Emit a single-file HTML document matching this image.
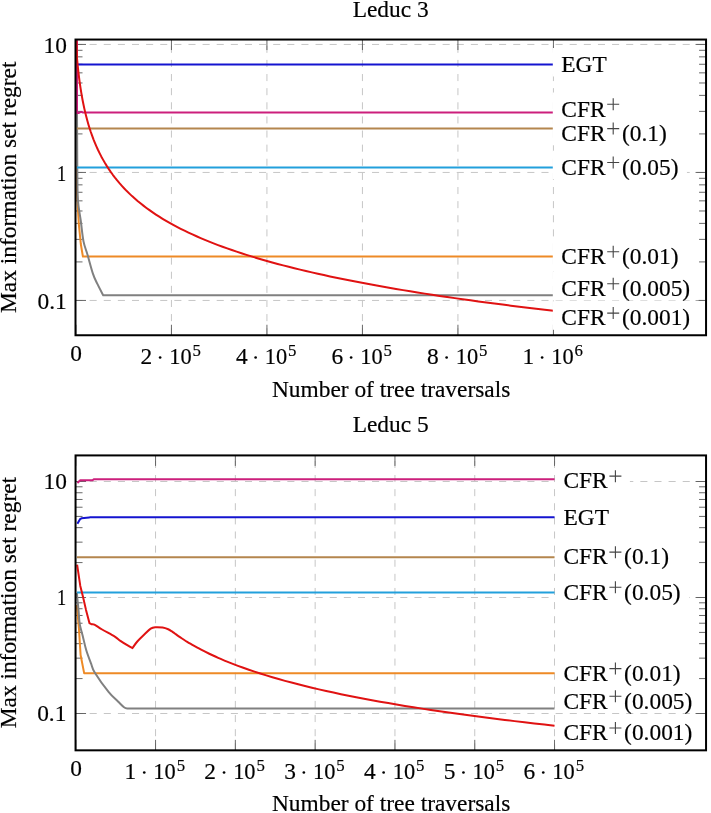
<!DOCTYPE html><html><head><meta charset="utf-8"><style>html,body{margin:0;padding:0;background:#fff;width:711px;height:813px;overflow:hidden}svg{display:block;will-change:transform}text{font-family:"Liberation Serif", serif;fill:#000;stroke:#000;stroke-width:0.18px}</style></head><body>
<svg width="711" height="813" viewBox="0 0 711 813">
<g stroke="#c6c6c6" stroke-width="1" stroke-dasharray="7.06 7.06"><line x1="171.43" y1="335.25" x2="171.43" y2="39.55"/><line x1="266.93" y1="335.25" x2="266.93" y2="39.55"/><line x1="362.43" y1="335.25" x2="362.43" y2="39.55"/><line x1="457.93" y1="335.25" x2="457.93" y2="39.55"/><line x1="553.43" y1="335.25" x2="553.43" y2="39.55"/><line x1="75.5" y1="44.45" x2="706.05" y2="44.45"/><line x1="75.5" y1="172.45" x2="706.05" y2="172.45"/><line x1="75.5" y1="300.45" x2="706.05" y2="300.45"/></g>
<path d="M75.93 335.25v-10.5M75.93 39.55v10.5M171.43 335.25v-10.5M171.43 39.55v10.5M266.93 335.25v-10.5M266.93 39.55v10.5M362.43 335.25v-10.5M362.43 39.55v10.5M457.93 335.25v-10.5M457.93 39.55v10.5M553.43 335.25v-10.5M553.43 39.55v10.5M75.5 44.45h10.5M706.05 44.45h-10.5M75.5 172.45h10.5M706.05 172.45h-10.5M75.5 300.45h10.5M706.05 300.45h-10.5M75.5 261.92h7M706.05 261.92h-7M75.5 239.38h7M706.05 239.38h-7M75.5 223.39h7M706.05 223.39h-7M75.5 210.98h7M706.05 210.98h-7M75.5 200.85h7M706.05 200.85h-7M75.5 192.28h7M706.05 192.28h-7M75.5 184.85h7M706.05 184.85h-7M75.5 178.31h7M706.05 178.31h-7M75.5 133.92h7M706.05 133.92h-7M75.5 111.38h7M706.05 111.38h-7M75.5 95.39h7M706.05 95.39h-7M75.5 82.98h7M706.05 82.98h-7M75.5 72.85h7M706.05 72.85h-7M75.5 64.28h7M706.05 64.28h-7M75.5 56.85h7M706.05 56.85h-7M75.5 50.31h7M706.05 50.31h-7" stroke="#585858" stroke-width="0.9" fill="none"/>
<path d="M76.8 166 L76.8 190 L78.8 223.8 L80.8 244 L82.9 256.47 L553.43 256.47" stroke="#ee8a26" stroke-width="2" fill="none" stroke-linejoin="round"/>
<path d="M77 40.5C77 52.42 76.95 90.42 77 112C77.05 133.58 77.15 155.33 77.3 170C77.45 184.67 77.32 191.5 77.9 200C78.48 208.5 79.87 214.1 80.8 221C81.73 227.9 82.37 235.73 83.5 241.4C84.63 247.07 86.02 249.58 87.6 255C89.18 260.42 91.42 269.17 93 273.9C94.58 278.63 95.4 279.84 97.1 283.4C98.8 286.96 102.18 293.27 103.2 295.25L553.43 295.25" stroke="#808080" stroke-width="2" fill="none" stroke-linejoin="round"/>
<path d="M76.8 167.4 L553.43 167.4" stroke="#22a0dc" stroke-width="2" fill="none" stroke-linejoin="round"/>
<path d="M76.8 128.55 L553.43 128.55" stroke="#b4864e" stroke-width="2" fill="none" stroke-linejoin="round"/>
<path d="M77 40.3 L77 112.9 L78.5 113 L81 111.9 L83 112.47 L553.43 112.47" stroke="#cc1f7c" stroke-width="2" fill="none" stroke-linejoin="round"/>
<path d="M77 64.5 L553.43 64.5" stroke="#1414d0" stroke-width="2" fill="none" stroke-linejoin="round"/>
<path d="M76.4 40.5 L77 58.18 L77.01 58.32 L77.06 58.83 L77.14 59.76 L77.27 61.11 L77.44 62.9 L77.65 65.09 L77.92 67.65 L78.23 70.54 L78.6 73.72 L79.01 77.15 L79.48 80.77 L80.01 84.55 L80.58 88.44 L81.22 92.42 L81.91 96.44 L82.66 100.5 L83.47 104.56 L84.34 108.6 L85.26 112.62 L86.25 116.61 L87.3 120.54 L88.41 124.42 L89.58 128.24 L90.81 132 L92.11 135.69 L93.47 139.32 L94.9 142.87 L96.39 146.36 L97.94 149.78 L99.57 153.13 L101.25 156.42 L103.01 159.63 L104.83 162.79 L106.72 165.87 L108.68 168.9 L110.7 171.87 L112.8 174.78 L114.96 177.63 L117.19 180.42 L119.49 183.16 L121.87 185.85 L124.31 188.49 L126.82 191.08 L129.41 193.62 L132.06 196.11 L134.79 198.56 L137.59 200.97 L140.46 203.33 L143.41 205.65 L146.43 207.93 L149.52 210.17 L152.68 212.38 L155.92 214.55 L159.24 216.68 L162.62 218.78 L166.09 220.85 L169.62 222.88 L173.24 224.88 L176.93 226.85 L180.69 228.8 L184.53 230.71 L188.45 232.59 L192.44 234.45 L196.51 236.28 L200.65 238.09 L204.88 239.87 L209.18 241.62 L213.56 243.35 L218.02 245.06 L222.55 246.74 L227.17 248.4 L231.86 250.05 L236.63 251.67 L241.48 253.26 L246.41 254.84 L251.42 256.4 L256.51 257.94 L261.68 259.46 L266.92 260.97 L272.25 262.45 L277.66 263.92 L283.15 265.37 L288.73 266.8 L294.38 268.22 L300.11 269.62 L305.93 271.01 L311.82 272.38 L317.8 273.74 L323.86 275.08 L330.01 276.41 L336.23 277.72 L342.54 279.02 L348.93 280.3 L355.41 281.57 L361.97 282.83 L368.61 284.08 L375.33 285.32 L382.14 286.54 L389.03 287.75 L396.01 288.95 L403.07 290.13 L410.21 291.31 L417.44 292.47 L424.76 293.63 L432.15 294.77 L439.64 295.9 L447.21 297.02 L454.86 298.13 L462.6 299.24 L470.43 300.33 L478.34 301.41 L486.34 302.48 L494.42 303.55 L502.59 304.6 L510.85 305.65 L519.19 306.68 L527.62 307.71 L536.14 308.73 L544.74 309.74 L553.43 310.74" stroke="#e01212" stroke-width="2" fill="none" stroke-linejoin="round"/>
<rect x="552.8" y="48" width="62.5" height="28.5" fill="#fff"/>
<rect x="552.8" y="92.5" width="74.9" height="28.5" fill="#fff"/>
<rect x="552.8" y="116.8" width="122.43" height="28.5" fill="#fff"/>
<rect x="552.8" y="150.7" width="134.13" height="28.5" fill="#fff"/>
<rect x="552.8" y="240" width="134.13" height="28.5" fill="#fff"/>
<rect x="552.8" y="271.9" width="145.83" height="28.5" fill="#fff"/>
<rect x="552.8" y="301.3" width="145.83" height="28.5" fill="#fff"/>
<rect x="75.5" y="39.55" width="630.55" height="295.7" fill="none" stroke="#000" stroke-width="2"/>
<text transform="translate(390.7 16.6) scale(1 1.03)" font-size="23.4" text-anchor="middle" >Leduc 3</text>
<text transform="translate(391.1 396.5) scale(1 1.03)" font-size="23.4" text-anchor="middle" >Number of tree traversals</text>
<text transform="translate(15.9 187.25) rotate(-90) scale(1 1.03)" font-size="23.4" text-anchor="middle">Max information set regret</text>
<text transform="translate(76.15 361) scale(1 1.03)" font-size="23.4" text-anchor="middle" >0</text>
<text transform="translate(140.43 363.8) scale(1 1.03)" font-size="23.4" text-anchor="start" >2</text><circle cx="160.13" cy="357.5" r="1.35" fill="#000"/><text transform="translate(169.23 363.8) scale(1 1.03)" font-size="23.4" text-anchor="start" textLength="22.4" lengthAdjust="spacingAndGlyphs">10</text><text transform="translate(192.53 355.8) scale(1 1.03)" font-size="16.8" text-anchor="start" >5</text>
<text transform="translate(235.93 363.8) scale(1 1.03)" font-size="23.4" text-anchor="start" >4</text><circle cx="255.63" cy="357.5" r="1.35" fill="#000"/><text transform="translate(264.73 363.8) scale(1 1.03)" font-size="23.4" text-anchor="start" textLength="22.4" lengthAdjust="spacingAndGlyphs">10</text><text transform="translate(288.03 355.8) scale(1 1.03)" font-size="16.8" text-anchor="start" >5</text>
<text transform="translate(331.43 363.8) scale(1 1.03)" font-size="23.4" text-anchor="start" >6</text><circle cx="351.13" cy="357.5" r="1.35" fill="#000"/><text transform="translate(360.23 363.8) scale(1 1.03)" font-size="23.4" text-anchor="start" textLength="22.4" lengthAdjust="spacingAndGlyphs">10</text><text transform="translate(383.53 355.8) scale(1 1.03)" font-size="16.8" text-anchor="start" >5</text>
<text transform="translate(426.93 363.8) scale(1 1.03)" font-size="23.4" text-anchor="start" >8</text><circle cx="446.63" cy="357.5" r="1.35" fill="#000"/><text transform="translate(455.73 363.8) scale(1 1.03)" font-size="23.4" text-anchor="start" textLength="22.4" lengthAdjust="spacingAndGlyphs">10</text><text transform="translate(479.03 355.8) scale(1 1.03)" font-size="16.8" text-anchor="start" >5</text>
<text transform="translate(522.43 363.8) scale(1 1.03)" font-size="23.4" text-anchor="start" >1</text><circle cx="542.13" cy="357.5" r="1.35" fill="#000"/><text transform="translate(551.23 363.8) scale(1 1.03)" font-size="23.4" text-anchor="start" textLength="22.4" lengthAdjust="spacingAndGlyphs">10</text><text transform="translate(574.53 355.8) scale(1 1.03)" font-size="16.8" text-anchor="start" >6</text>
<text transform="translate(66.2 180.9) scale(1 1.03)" font-size="23.4" text-anchor="end" textLength="9.2" lengthAdjust="spacingAndGlyphs">1</text>
<text transform="translate(66.9 52.8) scale(1 1.03)" font-size="23.4" text-anchor="end" >10</text>
<text transform="translate(66.7 308.8) scale(1 1.03)" font-size="23.4" text-anchor="end" >0.1</text>
<text transform="translate(561.3 72) scale(1 1.03)" font-size="23.4" text-anchor="start" >EGT</text>
<text transform="translate(561.3 116.5) scale(1 1.03)" font-size="23.4">CFR</text><path d="M607.2 104.3H619.2M613.2 98.3V110.3" stroke="#444" stroke-width="1.1"/>
<text transform="translate(561.3 140.8) scale(1 1.03)" font-size="23.4">CFR</text><path d="M607.2 128.6H619.2M613.2 122.6V134.6" stroke="#444" stroke-width="1.1"/><text transform="translate(621.9 140.8) scale(1 1.03)" font-size="23.4">(0.1)</text>
<text transform="translate(561.3 174.7) scale(1 1.03)" font-size="23.4">CFR</text><path d="M607.2 162.5H619.2M613.2 156.5V168.5" stroke="#444" stroke-width="1.1"/><text transform="translate(621.9 174.7) scale(1 1.03)" font-size="23.4">(0.05)</text>
<text transform="translate(561.3 264) scale(1 1.03)" font-size="23.4">CFR</text><path d="M607.2 251.8H619.2M613.2 245.8V257.8" stroke="#444" stroke-width="1.1"/><text transform="translate(621.9 264) scale(1 1.03)" font-size="23.4">(0.01)</text>
<text transform="translate(561.3 295.9) scale(1 1.03)" font-size="23.4">CFR</text><path d="M607.2 283.7H619.2M613.2 277.7V289.7" stroke="#444" stroke-width="1.1"/><text transform="translate(621.9 295.9) scale(1 1.03)" font-size="23.4">(0.005)</text>
<text transform="translate(561.3 325.3) scale(1 1.03)" font-size="23.4">CFR</text><path d="M607.2 313.1H619.2M613.2 307.1V319.1" stroke="#444" stroke-width="1.1"/><text transform="translate(621.9 325.3) scale(1 1.03)" font-size="23.4">(0.001)</text>
<g stroke="#c6c6c6" stroke-width="1" stroke-dasharray="7.06 7.06"><line x1="155.55" y1="750.33" x2="155.55" y2="455.42"/><line x1="235.35" y1="750.33" x2="235.35" y2="455.42"/><line x1="315.15" y1="750.33" x2="315.15" y2="455.42"/><line x1="394.95" y1="750.33" x2="394.95" y2="455.42"/><line x1="474.75" y1="750.33" x2="474.75" y2="455.42"/><line x1="554.55" y1="750.33" x2="554.55" y2="455.42"/><line x1="75.55" y1="481.5" x2="706.05" y2="481.5"/><line x1="75.55" y1="597.5" x2="706.05" y2="597.5"/><line x1="75.55" y1="713.5" x2="706.05" y2="713.5"/></g>
<path d="M75.75 750.33v-10.5M75.75 455.42v10.5M155.55 750.33v-10.5M155.55 455.42v10.5M235.35 750.33v-10.5M235.35 455.42v10.5M315.15 750.33v-10.5M315.15 455.42v10.5M394.95 750.33v-10.5M394.95 455.42v10.5M474.75 750.33v-10.5M474.75 455.42v10.5M554.55 750.33v-10.5M554.55 455.42v10.5M75.55 481.5h10.5M706.05 481.5h-10.5M75.55 597.5h10.5M706.05 597.5h-10.5M75.55 713.5h10.5M706.05 713.5h-10.5M75.55 678.58h7M706.05 678.58h-7M75.55 658.15h7M706.05 658.15h-7M75.55 643.66h7M706.05 643.66h-7M75.55 632.42h7M706.05 632.42h-7M75.55 623.23h7M706.05 623.23h-7M75.55 615.47h7M706.05 615.47h-7M75.55 608.74h7M706.05 608.74h-7M75.55 602.81h7M706.05 602.81h-7M75.55 562.58h7M706.05 562.58h-7M75.55 542.15h7M706.05 542.15h-7M75.55 527.66h7M706.05 527.66h-7M75.55 516.42h7M706.05 516.42h-7M75.55 507.23h7M706.05 507.23h-7M75.55 499.47h7M706.05 499.47h-7M75.55 492.74h7M706.05 492.74h-7M75.55 486.81h7M706.05 486.81h-7" stroke="#585858" stroke-width="0.9" fill="none"/>
<path d="M76.8 605 L78.9 628.1 L80.6 655 L84.2 673.37 L554.55 673.37" stroke="#ee8a26" stroke-width="2" fill="none" stroke-linejoin="round"/>
<path d="M76.9 593L77.2 597M77.2 597C77.42 599.17 78.07 605.43 78.5 610C78.93 614.57 79.08 620.03 79.8 624.4C80.52 628.77 81.73 631.93 82.8 636.2C83.87 640.47 84.82 645.42 86.2 650C87.58 654.58 89.68 659.95 91.1 663.7C92.52 667.45 91.76 667.75 94.7 672.5C97.64 677.25 104.87 687.37 108.75 692.2C112.63 697.03 115.46 699 118 701.5C120.54 704 122.33 706.03 124 707.2C125.67 708.37 126.33 708.28 128 708.5C129.67 708.72 133 708.5 134 708.5L554.55 708.5" stroke="#808080" stroke-width="2" fill="none" stroke-linejoin="round"/>
<path d="M77 592.5 L554.55 592.5" stroke="#22a0dc" stroke-width="2" fill="none" stroke-linejoin="round"/>
<path d="M77 557.37 L554.55 557.37" stroke="#b4864e" stroke-width="2" fill="none" stroke-linejoin="round"/>
<path d="M77.4 483 L80.25 480.3 L92.6 480.3 L93.75 479.35 L554.55 479.35" stroke="#cc1f7c" stroke-width="2" fill="none" stroke-linejoin="round"/>
<path d="M77.4 523.8 L80 519.2 L81.5 518.3 L89.25 517.4 L90 517.37 L554.55 517.37" stroke="#1414d0" stroke-width="2" fill="none" stroke-linejoin="round"/>
<path d="M77.1 564.6L80.3 585.9L83.1 597.2L86 609.9L89.5 623.2C89.85 623.37 90.78 623.97 91.6 624.2C92.42 624.43 92.65 623.72 94.4 624.6C96.15 625.48 98.7 627.5 102.1 629.5C105.5 631.5 111.75 634.72 114.8 636.6C117.85 638.48 118.18 639.28 120.4 640.8C122.62 642.32 126.1 644.48 128.1 645.7C130.1 646.92 131.68 647.7 132.4 648.1C133.22 647 135.32 643.77 137.3 641.5C139.28 639.23 142.07 636.65 144.3 634.5C146.53 632.35 148.82 629.82 150.7 628.6C152.58 627.38 153.62 627.37 155.6 627.2C157.58 627.03 160.5 627.25 162.6 627.6C164.7 627.95 166.63 628.66 168.2 629.3C169.77 629.94 171.28 630.99 172 631.41C172.72 631.83 172.27 631.62 172.55 631.83C172.82 632.03 173.22 632.33 173.66 632.66C174.09 632.98 174.61 633.36 175.17 633.77C175.73 634.17 176.35 634.62 177.02 635.09C177.69 635.56 178.41 636.07 179.18 636.59C179.94 637.11 180.76 637.66 181.61 638.22C182.46 638.79 183.36 639.37 184.3 639.97C185.23 640.57 186.21 641.18 187.23 641.8C188.24 642.43 189.29 643.06 190.38 643.7C191.47 644.35 192.6 645 193.76 645.66C194.92 646.31 196.12 646.98 197.34 647.65C198.57 648.32 199.84 648.99 201.13 649.67C202.42 650.34 203.75 651.02 205.11 651.7C206.47 652.38 207.86 653.06 209.28 653.74C210.7 654.42 212.15 655.1 213.63 655.78C215.11 656.47 216.62 657.15 218.16 657.82C219.7 658.5 221.26 659.18 222.86 659.85C224.45 660.53 226.08 661.2 227.73 661.87C229.38 662.54 231.06 663.21 232.76 663.87C234.47 664.53 236.2 665.19 237.96 665.85C239.72 666.51 241.51 667.16 243.32 667.81C245.13 668.46 246.97 669.11 248.83 669.75C250.69 670.39 252.58 671.03 254.49 671.66C256.4 672.3 258.34 672.92 260.3 673.55C262.27 674.17 264.25 674.8 266.26 675.41C268.28 676.03 270.31 676.64 272.37 677.25C274.43 677.85 276.51 678.46 278.62 679.06C280.72 679.66 282.85 680.25 285.01 680.84C287.16 681.43 289.33 682.01 291.53 682.59C293.73 683.18 295.95 683.75 298.19 684.32C300.44 684.9 302.7 685.46 304.99 686.03C307.28 686.59 309.59 687.15 311.92 687.7C314.25 688.26 316.61 688.81 318.98 689.35C321.36 689.9 323.76 690.44 326.17 690.98C328.59 691.51 331.03 692.05 333.49 692.58C335.95 693.1 338.44 693.63 340.94 694.15C343.44 694.67 345.97 695.19 348.51 695.7C351.05 696.21 353.62 696.72 356.2 697.23C358.79 697.73 361.4 698.23 364.02 698.73C366.65 699.23 369.29 699.72 371.96 700.21C374.63 700.7 377.31 701.18 380.02 701.66C382.72 702.15 385.45 702.62 388.19 703.1C390.94 703.57 393.71 704.05 396.49 704.51C399.27 704.98 402.08 705.44 404.9 705.91C407.72 706.37 410.57 706.82 413.43 707.28C416.29 707.73 419.17 708.18 422.07 708.63C424.97 709.08 427.89 709.52 430.82 709.96C433.76 710.4 436.72 710.84 439.69 711.27C442.66 711.71 445.66 712.14 448.67 712.57C451.68 712.99 454.71 713.42 457.76 713.84C460.81 714.26 463.87 714.68 466.96 715.1C470.04 715.51 473.14 715.93 476.26 716.34C479.39 716.75 482.52 717.16 485.68 717.56C488.84 717.96 492.01 718.37 495.2 718.77C498.4 719.17 501.61 719.56 504.83 719.96C508.06 720.35 511.31 720.74 514.57 721.13C517.83 721.52 521.11 721.9 524.41 722.29C527.71 722.67 531.02 723.05 534.35 723.43C537.68 723.81 541.03 724.18 544.4 724.56C547.77 724.93 552.86 725.48 554.55 725.67" stroke="#e01212" stroke-width="2" fill="none" stroke-linejoin="round"/>
<rect x="555" y="464.35" width="74.9" height="28.5" fill="#fff"/>
<rect x="555" y="501.4" width="62.5" height="28.5" fill="#fff"/>
<rect x="555" y="540.35" width="122.43" height="28.5" fill="#fff"/>
<rect x="555" y="575.5" width="134.13" height="28.5" fill="#fff"/>
<rect x="555" y="656.8" width="134.13" height="28.5" fill="#fff"/>
<rect x="555" y="684.5" width="145.83" height="28.5" fill="#fff"/>
<rect x="555" y="716.2" width="145.83" height="28.5" fill="#fff"/>
<rect x="75.55" y="455.42" width="630.5" height="294.91" fill="none" stroke="#000" stroke-width="2"/>
<text transform="translate(390.7 431.7) scale(1 1.03)" font-size="23.4" text-anchor="middle" >Leduc 5</text>
<text transform="translate(391.1 811.4) scale(1 1.03)" font-size="23.4" text-anchor="middle" >Number of tree traversals</text>
<text transform="translate(15.9 602.6) rotate(-90) scale(1 1.03)" font-size="23.4" text-anchor="middle">Max information set regret</text>
<text transform="translate(76 775.7) scale(1 1.03)" font-size="23.4" text-anchor="middle" >0</text>
<text transform="translate(124.55 778.8) scale(1 1.03)" font-size="23.4" text-anchor="start" >1</text><circle cx="144.25" cy="772.5" r="1.35" fill="#000"/><text transform="translate(153.35 778.8) scale(1 1.03)" font-size="23.4" text-anchor="start" textLength="22.4" lengthAdjust="spacingAndGlyphs">10</text><text transform="translate(176.65 770.8) scale(1 1.03)" font-size="16.8" text-anchor="start" >5</text>
<text transform="translate(204.35 778.8) scale(1 1.03)" font-size="23.4" text-anchor="start" >2</text><circle cx="224.05" cy="772.5" r="1.35" fill="#000"/><text transform="translate(233.15 778.8) scale(1 1.03)" font-size="23.4" text-anchor="start" textLength="22.4" lengthAdjust="spacingAndGlyphs">10</text><text transform="translate(256.45 770.8) scale(1 1.03)" font-size="16.8" text-anchor="start" >5</text>
<text transform="translate(284.15 778.8) scale(1 1.03)" font-size="23.4" text-anchor="start" >3</text><circle cx="303.85" cy="772.5" r="1.35" fill="#000"/><text transform="translate(312.95 778.8) scale(1 1.03)" font-size="23.4" text-anchor="start" textLength="22.4" lengthAdjust="spacingAndGlyphs">10</text><text transform="translate(336.25 770.8) scale(1 1.03)" font-size="16.8" text-anchor="start" >5</text>
<text transform="translate(363.95 778.8) scale(1 1.03)" font-size="23.4" text-anchor="start" >4</text><circle cx="383.65" cy="772.5" r="1.35" fill="#000"/><text transform="translate(392.75 778.8) scale(1 1.03)" font-size="23.4" text-anchor="start" textLength="22.4" lengthAdjust="spacingAndGlyphs">10</text><text transform="translate(416.05 770.8) scale(1 1.03)" font-size="16.8" text-anchor="start" >5</text>
<text transform="translate(443.75 778.8) scale(1 1.03)" font-size="23.4" text-anchor="start" >5</text><circle cx="463.45" cy="772.5" r="1.35" fill="#000"/><text transform="translate(472.55 778.8) scale(1 1.03)" font-size="23.4" text-anchor="start" textLength="22.4" lengthAdjust="spacingAndGlyphs">10</text><text transform="translate(495.85 770.8) scale(1 1.03)" font-size="16.8" text-anchor="start" >5</text>
<text transform="translate(523.55 778.8) scale(1 1.03)" font-size="23.4" text-anchor="start" >6</text><circle cx="543.25" cy="772.5" r="1.35" fill="#000"/><text transform="translate(552.35 778.8) scale(1 1.03)" font-size="23.4" text-anchor="start" textLength="22.4" lengthAdjust="spacingAndGlyphs">10</text><text transform="translate(575.65 770.8) scale(1 1.03)" font-size="16.8" text-anchor="start" >5</text>
<text transform="translate(66.2 605.4) scale(1 1.03)" font-size="23.4" text-anchor="end" textLength="9.2" lengthAdjust="spacingAndGlyphs">1</text>
<text transform="translate(66.9 489) scale(1 1.03)" font-size="23.4" text-anchor="end" >10</text>
<text transform="translate(66.4 721.2) scale(1 1.03)" font-size="23.4" text-anchor="end" >0.1</text>
<text transform="translate(563.5 488.35) scale(1 1.03)" font-size="23.4">CFR</text><path d="M609.4 476.15H621.4M615.4 470.15V482.15" stroke="#444" stroke-width="1.1"/>
<text transform="translate(563.5 525.4) scale(1 1.03)" font-size="23.4" text-anchor="start" >EGT</text>
<text transform="translate(563.5 564.35) scale(1 1.03)" font-size="23.4">CFR</text><path d="M609.4 552.15H621.4M615.4 546.15V558.15" stroke="#444" stroke-width="1.1"/><text transform="translate(624.1 564.35) scale(1 1.03)" font-size="23.4">(0.1)</text>
<text transform="translate(563.5 599.5) scale(1 1.03)" font-size="23.4">CFR</text><path d="M609.4 587.3H621.4M615.4 581.3V593.3" stroke="#444" stroke-width="1.1"/><text transform="translate(624.1 599.5) scale(1 1.03)" font-size="23.4">(0.05)</text>
<text transform="translate(563.5 680.8) scale(1 1.03)" font-size="23.4">CFR</text><path d="M609.4 668.6H621.4M615.4 662.6V674.6" stroke="#444" stroke-width="1.1"/><text transform="translate(624.1 680.8) scale(1 1.03)" font-size="23.4">(0.01)</text>
<text transform="translate(563.5 708.5) scale(1 1.03)" font-size="23.4">CFR</text><path d="M609.4 696.3H621.4M615.4 690.3V702.3" stroke="#444" stroke-width="1.1"/><text transform="translate(624.1 708.5) scale(1 1.03)" font-size="23.4">(0.005)</text>
<text transform="translate(563.5 740.2) scale(1 1.03)" font-size="23.4">CFR</text><path d="M609.4 728H621.4M615.4 722V734" stroke="#444" stroke-width="1.1"/><text transform="translate(624.1 740.2) scale(1 1.03)" font-size="23.4">(0.001)</text>
</svg></body></html>
